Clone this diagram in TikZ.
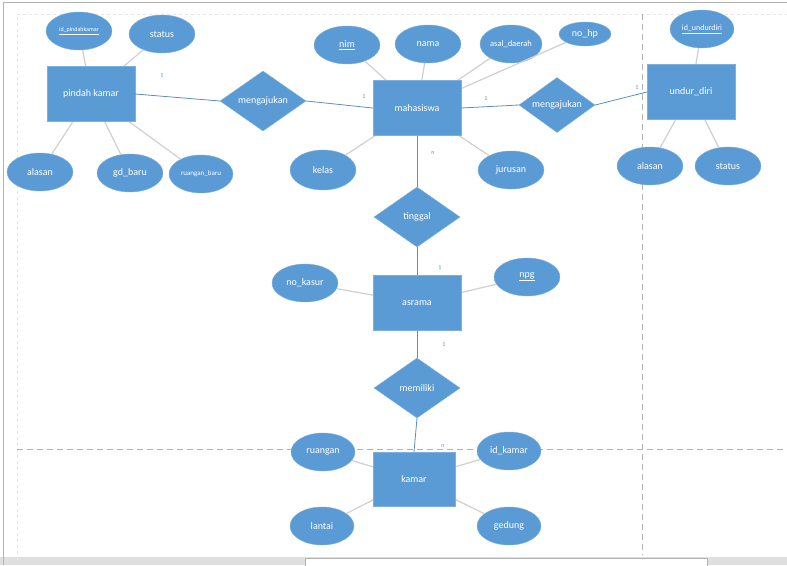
\documentclass[tikz,border=0pt]{standalone}
\usepackage{fontspec}
\setmainfont{Carlito}
\usetikzlibrary{shapes.geometric}
\definecolor{bl}{HTML}{5B9BD5}
\definecolor{ln}{HTML}{5A8FC0}
\definecolor{at}{HTML}{CFCFCF}
\begin{document}
\begin{tikzpicture}[x=1pt,y=-1pt,
 ent/.style={fill=bl,draw=bl!80!white,minimum width=88pt,minimum height=55pt,text=white,font=\fontsize{10}{12}\selectfont},
 rel/.style={diamond,fill=bl,draw=bl!80!white,minimum width=86pt,minimum height=60pt,aspect=1.45,inner sep=0pt,text=white,font=\fontsize{10}{12}\selectfont},
 att/.style={ellipse,fill=bl,draw=bl!80!white,minimum width=66pt,minimum height=38pt,inner sep=0pt,text=white,font=\fontsize{10}{12}\selectfont},
 rl/.style={draw=ln,line width=0.8pt},
 al/.style={draw=at,line width=1.2pt},
 card/.style={text=ln,font=\fontsize{6}{7}\selectfont,inner sep=0pt}]
\useasboundingbox (0,0) rectangle (787,565);
% frame
\fill[gray!25] (0,557) rectangle (787,565);
\fill[white,draw=gray!60] (305,558) rectangle (707,566);
\draw[gray!60] (3,565) -- (3,2) -- (787,2);
\draw[gray!20,dashed] (17,560) -- (17,14) -- (787,14);
\draw[gray!60,dashed,dash pattern=on 6pt off 4pt] (17,449) -- (787,449);
\draw[gray!60,dashed,dash pattern=on 6pt off 4pt] (642,14) -- (642,555);
% attributes first
\node[att,minimum width=66pt] (idp) at (79,31) {\fontsize{6}{7}\selectfont\underline{id\_pindahkamar}};
\node[att] (st1) at (162,34) {status};
\node[att] (al1) at (40,172) {alasan};
\node[att] (gd) at (130,173) {gd\_baru};
\node[att,minimum width=64pt] (rb) at (201,174) {\fontsize{7}{8}\selectfont ruangan\_baru};
\node[att] (nim) at (347,45) {\underline{nim}};
\node[att] (nama) at (428,44) {nama};
\node[att,minimum width=62pt] (asal) at (511,44) {\fontsize{8.5}{10}\selectfont asal\_daerah};
\node[att,minimum width=52pt,minimum height=24pt] (hp) at (585,34) {no\_hp};
\node[att,minimum height=40pt] (kel) at (323,170) {kelas};
\node[att] (jur) at (511,170) {jurusan};
\node[att,minimum width=64pt] (idu) at (702,29) {\fontsize{8}{9}\selectfont\underline{id\_undurdiri}};
\node[att] (al2) at (650,166) {alasan};
\node[att] (st2) at (728,166) {status};
\node[att] (nok) at (305,283) {no\_kasur};
\node[att] (npg) at (527,277) {\underline{npg}};
\node[att,minimum width=64pt] (rua) at (323,452) {ruangan};
\node[att,minimum width=64pt] (idk) at (509,451) {id\_kamar};
\node[att,minimum width=64pt] (lan) at (322,526) {lantai};
\node[att,minimum width=64pt] (ged) at (509,526) {gedung};
% entity coordinates
\coordinate (pkc) at (91,94);
\coordinate (mhc) at (417,108);
\coordinate (udc) at (691,92);
\coordinate (asc) at (417,303);
\coordinate (kmc) at (414,479);
% attribute lines
\draw[al] (idp) -- (pkc); \draw[al] (st1) -- (pkc);
\draw[al] (al1) -- (pkc); \draw[al] (gd) -- (pkc); \draw[al] (rb) -- (pkc);
\draw[al] (nim) -- (mhc); \draw[al] (nama) -- (mhc); \draw[al] (asal) -- (mhc);
\draw[al] (hp) -- (mhc); \draw[al] (kel) -- (mhc); \draw[al] (jur) -- (mhc);
\draw[al] (idu) -- (udc); \draw[al] (al2) -- (udc); \draw[al] (st2) -- (udc);
\draw[al] (nok) -- (asc); \draw[al] (npg) -- (asc);
\draw[al] (rua) -- (kmc); \draw[al] (idk) -- (kmc); \draw[al] (lan) -- (kmc); \draw[al] (ged) -- (kmc);
% relationships
\node[rel] (mj1) at (263,101) {mengajukan};
\node[rel,minimum width=76pt,minimum height=55pt] (mj2) at (557,105) {mengajukan};
\node[rel] (tg) at (417,217) {tinggal};
\node[rel] (mm) at (417,388) {memiliki};
% entities
\node[ent] (pk) at (pkc) {pindah kamar};
\node[ent] (mh) at (mhc) {mahasiswa};
\node[ent] (ud) at (udc) {undur\_diri};
\node[ent] (as) at (asc) {asrama};
\node[ent,minimum width=82pt,minimum height=54pt] (km) at (kmc) {kamar};
% relation lines
\draw[rl] (pk.east) -- (mj1.west);
\draw[rl] (mj1.east) -- (mh.west);
\draw[rl] (mh.east) -- (mj2.west);
\draw[rl] (mj2.east) -- (ud.west);
\draw[rl] (mh.south) -- (tg.north);
\draw[rl] (tg.south) -- (as.north);
\draw[rl] (as.south) -- (mm.north);
\draw[rl] (mm.south) -- (km.north);
% cardinalities
\node[card] (c1) at (162,76) {1};
\node[card] (c2) at (364,97) {1};
\node[card] (c3) at (486,99) {1};
\node[card] (c4) at (637,88) {1};
\node[card] (c5) at (433,153) {n};
\node[card] (c6) at (440,268) {1};
\node[card] (c7) at (444,345) {1};
\node[card] (c8) at (443,446) {n};
\end{tikzpicture}
\end{document}
